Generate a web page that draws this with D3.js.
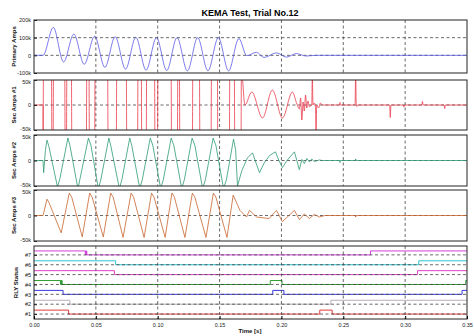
<!DOCTYPE html>
<html><head><meta charset="utf-8">
<script src="https://cdn.jsdelivr.net/npm/d3@7"></script>
<style>body{margin:0;background:#fff}svg{display:block}text{font-family:"Liberation Sans",Arial,sans-serif}</style>
</head><body><svg id="c" width="474" height="336"></svg>
<script>
const title = "KEMA Test, Trial No.12";
const xLabel = "Time [s]";
const xTicks = [0, 0.05, 0.10, 0.15, 0.20, 0.25, 0.30, 0.35];
const xTickLabels = ["0.00","0.05","0.10","0.15","0.20","0.25","0.30","0.35"];
const panelLabels = ["Primary Amps","Sec Amps #1","Sec Amps #2","Sec Amps #3","RLY Status"];
const primaryTicks = [-100, 0, 100, 200];
const primaryTickLabels = ["-100k","0","100k","200k"];
const secTicks = [-50, 0, 50];
const secTickLabels = ["-50k","0","50k"];
const relayNames = ["#1","#2","#3","#4","#5","#6","#7"];

// Primary current [time s, kA]
const primary = [[0,0],[0.0073,0],[0.0156,158],[0.0239,-38],[0.0322,120],[0.0406,-51],[0.049,108],[0.0573,-68],
 [0.0656,105],[0.074,-78],[0.0823,102],[0.0906,-84],[0.099,100],[0.1073,-86],[0.1156,100],[0.124,-88],
 [0.1323,100],[0.1406,-88],[0.149,100],[0.1573,-88],[0.1656,95],[0.172,-2],[0.1798,17],[0.186,-12],
 [0.196,14],[0.204,-10],[0.212,10],[0.220,-4],[0.228,0],[0.35,0]];
// Secondary #1: times where the (off-scale) saturated signal sweeps through the window
const sec1Sweeps = [0.0075,0.0143,0.0156,0.0250,0.0264,0.0304,0.0425,0.0446,0.0492,0.0597,0.0667,0.0748,
 0.0839,0.0869,0.0909,0.0976,0.1000,0.1110,0.1161,0.1177,0.1282,0.1339,0.1433,0.1484,0.1581,0.1621,0.1675];
const sec1SweepLevel = 70;
// Secondary #1 after the fault [time s, kA]
const sec1Tail = [[0.1705,0],[0.176,26],[0.1847,-26],[0.1927,30],[0.2008,-26],[0.2089,26],[0.2125,2],
 [0.2145,-8],[0.2155,14],[0.2165,-30],[0.2175,6],[0.2185,-12],[0.2195,20],[0.2205,-6],[0.2215,8],[0.2225,-3],
 [0.2245,0],[0.225,60],[0.2255,0],[0.2265,4],[0.2275,-2],[0.228,-60],[0.2285,0],[0.230,-6],[0.2315,4],[0.233,0],
 [0.247,0],[0.2473,5],[0.2476,0],[0.2595,0],[0.26,60],[0.2605,2],[0.261,-3],[0.2615,0],[0.2875,0],
 [0.288,-25],[0.2885,0],[0.2985,0],[0.299,-4],[0.2995,0],[0.3135,0],[0.314,7],[0.3145,0],[0.3315,0],[0.332,-7],
 [0.3325,0],[0.35,0]];
// Secondary #2
const sec2 = [[0,0],[0.0073,0],[0.0078,-24],[0.0092,20],[0.0105,40],[0.012,28],[0.019,-52],[0.021,-35],
 [0.0274,44],[0.029,30],[0.0355,-55],[0.037,-38],[0.044,44],[0.046,30],[0.052,-55],[0.054,-38],
 [0.0605,44],[0.062,30],[0.069,-55],[0.071,-38],[0.0774,44],[0.079,30],[0.0855,-55],[0.0875,-38],
 [0.094,44],[0.096,30],[0.1024,-55],[0.1045,-38],[0.1109,44],[0.113,30],[0.1194,-55],[0.1215,-38],
 [0.1278,44],[0.130,30],[0.1363,-55],[0.1385,-38],[0.1448,44],[0.147,30],[0.1532,-55],[0.1555,-38],
 [0.1613,42],[0.163,20],[0.1645,-50],[0.168,-20],[0.1725,5],[0.1766,15],[0.1795,-5],[0.1823,-24],[0.186,-5],
 [0.1905,10],[0.1952,17],[0.198,0],[0.2008,-14],[0.2045,0],[0.2105,17],[0.2145,-18],[0.2165,2],[0.2185,-6],
 [0.2205,4],[0.2226,-3],[0.2245,3],[0.2266,-2],[0.2306,1],[0.233,0],[0.247,0],[0.2473,-4],[0.2476,0],
 [0.2595,0],[0.26,3],[0.2605,0],[0.35,0]];
// Secondary #3
const sec3 = [[0,0],[0.0073,0],[0.0105,32],[0.012,26],[0.022,-34],[0.0285,44],[0.0305,36],[0.039,-42],[0.045,44],
 [0.047,36],[0.056,-42],[0.062,44],[0.064,36],[0.072,-43],[0.0785,44],[0.0805,36],[0.089,-43],[0.095,44],
 [0.097,36],[0.106,-43],[0.1115,44],[0.1135,36],[0.122,-43],[0.128,44],[0.130,36],[0.139,-43],[0.145,44],
 [0.147,36],[0.156,-43],[0.161,40],[0.1665,10],[0.1718,-3],[0.1742,10],[0.18,-3],[0.19,-6],[0.196,10],
 [0.2008,-12],[0.2105,10],[0.2145,-8],[0.2185,3],[0.2226,-6],[0.2266,2],[0.2306,-3],[0.235,0],[0.2595,0],
 [0.26,-3],[0.2605,0],[0.35,0]];
// Relay status transitions [time, state]
const relay1 = [[0,1],[0.028,0],[0.231,1],[0.241,0],[0.35,0]];
const relay2 = [[0,1],[0.029,0],[0.240,1],[0.35,1]];
const relay3 = [[0,1],[0.0235,0],[0.193,1],[0.202,0],[0.346,1],[0.35,1]];
const relay4 = [[0,1],[0.0215,0],[0.0218,1],[0.0221,0],[0.0224,1],[0.0227,0],[0.191,1],[0.2005,0],[0.349,1],[0.35,1]];
const relay5 = [[0,1],[0.065,0],[0.310,1],[0.35,1]];
const relay6 = [[0,1],[0.066,0],[0.311,1],[0.35,1]];
const relay7 = [[0,1],[0.0415,0],[0.0418,1],[0.0421,0],[0.0424,1],[0.0427,0],[0.272,1],[0.35,1]];
const relays = [relay1,relay2,relay3,relay4,relay5,relay6,relay7];
const relayColors = ["#e23a3a","#b8b0b8","#3a3ae0","#2e9e2e","#e040c8","#30c4d0","#d040d8"];

// build Sec #1 series: flat before onset, near-vertical sweeps, then the tail
const sec1 = [[0,0],[0.0073,0]];
sec1Sweeps.forEach((t,k)=>{
  const s = k%2===0 ? 1 : -1;
  sec1.push([t-0.00015,-s*sec1SweepLevel],[t+0.00015,s*sec1SweepLevel]);
});
sec1Tail.forEach(d=>sec1.push(d));

const svg = d3.select("#c");
const x = d3.scaleLinear().domain([0,0.35]).range([34,467]);
const panels = [
  {top:20,bottom:73,domain:[-100,200],ticks:primaryTicks,labels:primaryTickLabels,grid:[0,100],data:primary,color:"#5a5ae6",curve:d3.curveMonotoneX},
  {top:80,bottom:130,domain:[-50,50],ticks:secTicks,labels:secTickLabels,grid:[0],data:sec1,color:"#ea3c4c",curve:d3.curveMonotoneX},
  {top:135,bottom:186,domain:[-50,50],ticks:secTicks,labels:secTickLabels,grid:[0],data:sec2,color:"#2f9a72",curve:d3.curveLinear},
  {top:190,bottom:241,domain:[-50,50],ticks:secTicks,labels:secTickLabels,grid:[0],data:sec3,color:"#c8642e",curve:d3.curveLinear},
  {top:246,bottom:319,domain:[0.5,7.9],ticks:[1,2,3,4,5,6,7],labels:relayNames,grid:[1,2,3,4,5,6,7]}
];

svg.append("text").attr("x",250).attr("y",16).attr("text-anchor","middle")
  .attr("font-size",9).attr("font-weight","bold").text(title);

panels.forEach((p,i)=>{
  const y = d3.scaleLinear().domain(p.domain).range([p.bottom,p.top]);
  const g = svg.append("g");
  const cid = "clip"+i;
  svg.append("clipPath").attr("id",cid).append("rect")
    .attr("x",x(0)).attr("y",p.top).attr("width",x(0.35)-x(0)).attr("height",p.bottom-p.top);
  const plot = g.append("g").attr("clip-path",`url(#${cid})`);
  const drawGrid = () => {
    xTicks.slice(1,-1).forEach(t=>plot.append("line").attr("x1",x(t)).attr("x2",x(t)).attr("y1",p.top).attr("y2",p.bottom)
      .attr("stroke","#444").attr("stroke-width",0.8).attr("stroke-dasharray","3,2.5"));
    p.grid.forEach(v=>plot.append("line").attr("x1",x(0)).attr("x2",x(0.35)).attr("y1",y(v)).attr("y2",y(v))
      .attr("stroke","#444").attr("stroke-width",0.8).attr("stroke-dasharray","3,2.5"));
  };
  if (i < 4) {
    drawGrid();
    plot.append("path").datum(p.data).attr("fill","none").attr("stroke",p.color).attr("stroke-width",0.8)
      .attr("d",d3.line().x(d=>x(d[0])).y(d=>y(d[1])).curve(p.curve));
  } else {
    relays.forEach((r,k)=>{
      plot.append("path").datum(r).attr("fill","none").attr("stroke",relayColors[k]).attr("stroke-width",1)
        .attr("d",d3.line().x(d=>x(d[0])).y(d=>y(k+1+d[1]*0.4)).curve(d3.curveStepAfter));
    });
    drawGrid();
  }
  g.append("rect").attr("x",x(0)).attr("y",p.top).attr("width",x(0.35)-x(0)).attr("height",p.bottom-p.top)
    .attr("fill","none").attr("stroke","#222").attr("stroke-width",1);
  const ya = d3.axisLeft(y).tickValues(p.ticks).tickFormat((d,j)=>p.labels[j]).tickSize(-3).tickPadding(3);
  const ag = g.append("g").attr("transform",`translate(${x(0)},0)`).call(ya);
  ag.select(".domain").remove();
  ag.selectAll("text").attr("font-size",5.5).attr("font-family","Liberation Sans, Arial, sans-serif").attr("fill","#222");
  if (i>0 && i<4) {
    ag.selectAll(".tick").filter(d=>d===p.domain[0]).select("text").attr("dy","0.1em");
    ag.selectAll(".tick").filter(d=>d===p.domain[1]).select("text").attr("dy","0.55em");
  }
  ag.selectAll("line").attr("stroke","#222");
  svg.append("text").attr("transform",`translate(${i===4?18:16},${(p.top+p.bottom)/2}) rotate(-90)`)
    .attr("text-anchor","middle").attr("font-size",6).attr("font-weight","bold").attr("fill","#111").text(panelLabels[i]);
});

const xa = d3.axisBottom(x).tickValues(xTicks).tickFormat((d,j)=>xTickLabels[j]).tickSize(-3).tickPadding(4);
const xg = svg.append("g").attr("transform","translate(0,319)").call(xa);
xg.select(".domain").remove();
xg.selectAll("text").attr("font-size",5.5).attr("font-family","Liberation Sans, Arial, sans-serif").attr("fill","#222");
svg.append("text").attr("x",250).attr("y",333).attr("text-anchor","middle").attr("font-size",6)
  .attr("font-weight","bold").attr("fill","#111").text(xLabel);
</script></body></html>
